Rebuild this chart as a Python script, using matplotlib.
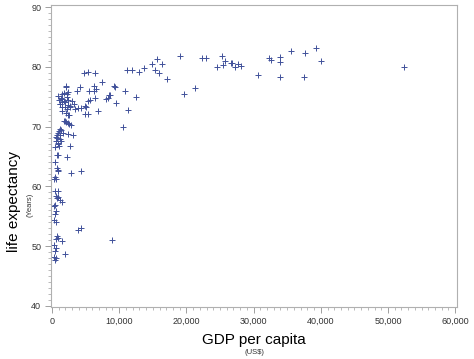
import matplotlib
matplotlib.use("Agg")
import matplotlib.pyplot as plt
from matplotlib.ticker import MultipleLocator, FuncFormatter

# GDP per capita (US$) and life expectancy (years)
gdp = [19050, 19700, 21230, 22270, 22920, 25350, 24550, 25400, 25700, 26640,
       26800, 27180, 27730, 28170, 30610, 32290, 32590, 33980, 33980, 33980,
       35620, 37700, 37550, 39290, 40030, 52330,
       7490, 9270, 9400, 8480, 7990, 9470, 10910, 12540, 11360, 10520,
       11160, 11860, 12900, 13740, 14880, 15580, 16420, 15380, 15920, 17160,
       4710, 5310, 6400, 2040, 4120, 3670, 5460, 6290, 6500, 6250,
       1740, 2230, 940, 1340, 5400, 5650, 6400, 1440, 1930, 2430, 2930, 3230,
       3910, 4320, 4910, 5110, 6850, 4910, 5400,
       1190, 1540, 1930, 2230, 2430, 2680, 2040, 2430,
       1930, 2330, 2580, 2830, 1290,
       940, 750, 1140, 1190, 550, 1290, 840, 450, 1040, 2430, 3130, 2630,
       790, 940, 2180, 450, 750, 940, 840, 2830, 4320,
       450, 640, 340, 450, 840, 640, 940, 750, 1190, 1440,
       450, 340, 600, 450, 340, 550, 3910, 4320,
       750, 940, 550, 1540, 8880, 340, 640, 450, 1930, 340, 550, 450,
       1440, 1830, 1240, 2130, 2330, 2530, 1740, 2040, 1240, 1640, 1040,
       640, 860, 1440, 1040, 2730, 3430, 2240, 1540, 740, 8380, 8630]
life = [81.8, 75.5, 76.4, 81.5, 81.5, 81.8, 79.9, 80.3, 80.9, 80.7,
        80.6, 79.9, 80.5, 80.1, 78.7, 81.4, 81.1, 81.7, 80.8, 78.3,
        82.7, 82.3, 78.3, 83.2, 81.0, 79.9,
        77.5, 76.8, 76.6, 75.3, 74.6, 73.9, 75.9, 75.0, 72.8, 70.0,
        79.5, 79.4, 79.2, 79.8, 80.5, 81.3, 80.5, 79.5, 79.0, 77.9,
        79.0, 79.2, 79.0, 76.8, 76.7, 75.9, 75.9, 76.8, 76.3, 75.9,
        75.6, 75.5, 75.1, 74.8, 74.2, 74.4, 74.7, 74.1, 74.1, 74.4, 74.2, 73.8,
        73.1, 73.1, 73.4, 73.2, 72.6, 72.1, 72.1,
        73.8, 73.2, 73.2, 72.9, 73.6, 73.2, 72.2, 71.9,
        70.9, 70.6, 70.4, 70.2, 69.5,
        68.9, 68.5, 68.6, 67.9, 67.6, 67.6, 67.3, 66.6, 66.7, 68.8, 68.6, 66.8,
        65.3, 65.3, 64.9, 64.1, 63.0, 62.8, 62.5, 62.3, 62.5,
        61.6, 61.3, 61.2, 59.2, 59.2, 58.4, 58.2, 58.1, 57.7, 57.3,
        56.9, 56.7, 55.9, 55.3, 54.4, 54.1, 52.7, 53.0,
        51.6, 51.4, 51.2, 50.9, 51.0, 50.1, 49.7, 49.2, 48.6, 48.2, 48.0, 47.7,
        74.6, 74.2, 73.8, 76.7, 75.7, 72.0, 71.0, 70.8, 69.6, 69.0, 69.2,
        68.2, 67.0, 75.5, 74.4, 73.5, 73.0, 74.9, 72.6, 68.0, 74.7, 75.2]

plt.rcParams['font.family'] = ['Liberation Sans', 'DejaVu Sans']

fig = plt.figure(figsize=(4.74, 3.59), dpi=100)
ax = fig.add_axes([0.1076, 0.145, 0.857, 0.842])

ax.scatter(gdp, life, marker='+', s=15, linewidths=0.7, color='#41519a')

ax.set_xlim(-150, 60300)
ax.set_ylim(39.8, 90.4)
ax.xaxis.set_major_locator(MultipleLocator(10000))
ax.xaxis.set_minor_locator(MultipleLocator(1000))
ax.yaxis.set_major_locator(MultipleLocator(10))
ax.yaxis.set_minor_locator(MultipleLocator(1))
ax.xaxis.set_major_formatter(FuncFormatter(lambda v, p: f"{int(v):,}"))

for s in ax.spines.values():
    s.set_color('#b0b0b0')
    s.set_linewidth(0.8)
ax.tick_params(which='major', length=4, width=0.7, color='#a0a0a0',
               labelsize=6.5, labelcolor='#333333', pad=3)
ax.tick_params(which='minor', length=2, width=0.6, color='#b0b0b0')

fig.text(0.030, 0.44, 'life expectancy', rotation=90, ha='center', va='center',
         fontsize=11)
fig.text(0.063, 0.43, '(Years)', rotation=90, ha='center', va='center',
         fontsize=5.5, color='#333333')
fig.text(0.536, 0.052, 'GDP per capita', ha='center', va='center', fontsize=11)
fig.text(0.536, 0.018, '(US$)', ha='center', va='center', fontsize=5.5,
         color='#333333')

fig.savefig('out.png', dpi=100)
